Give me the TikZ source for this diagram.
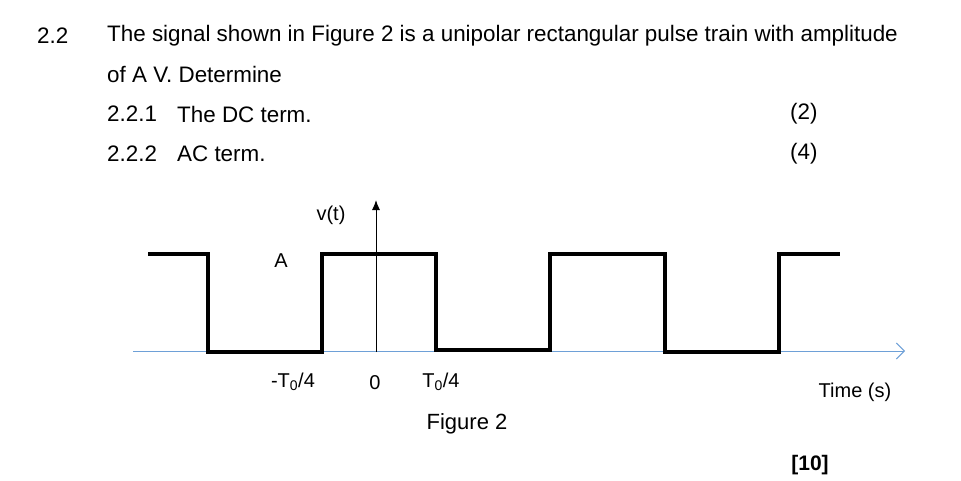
\documentclass[tikz,border=0pt]{standalone}
\usepackage{fontspec}
\setmainfont{Liberation Sans}
\usetikzlibrary{arrows.meta}
\begin{document}
\begin{tikzpicture}[x=1pt,y=-1pt,
  txt/.style={anchor=west,inner sep=0pt,font=\fontsize{22.4}{26}\selectfont},
  lbl/.style={inner sep=0pt,font=\fontsize{20}{24}\selectfont},
  sig/.style={line width=3.3pt,line join=miter}]
\useasboundingbox (0,0) rectangle (961,480);
\node[txt] (n22) at (37,36) {2.2};
\node[txt] (p1) at (107,36) {The signal shown in Figure 2 is a unipolar rectangular pulse train with amplitude};
\node[txt] (p2) at (107,74) {of A V. Determine};
\node[txt] (q1) at (107,114) {2.2.1};
\node[txt] (q1t) at (177,114) {The DC term.};
\node[txt] (m1) at (790,114) {(2)};
\node[txt] (q2) at (107,154) {2.2.2};
\node[txt] (q2t) at (177,154) {AC term.};
\node[txt] (m2) at (790,154) {(4)};
\coordinate (ax0) at (133,351);
\coordinate (ax1) at (905,351);
\draw[color={rgb,255:red,110;green,160;blue,215},line width=1pt,-{Straight Barb[length=8pt,width=16pt]}] (ax0) -- (ax1);
\draw[sig] (148,254) -- (208,254) -- (208,352) -- (322,352) -- (322,254) -- (436,254) -- (436,350) -- (550,350) -- (550,254) -- (665,254) -- (665,352) -- (779,352) -- (779,254) -- (840,254);
\coordinate (v0) at (376,352);
\coordinate (v1) at (376,200);
\draw[line width=1pt,-{Latex[length=10pt,width=8pt]}] (v0) -- (v1);
\node[lbl] (vt) at (331,215) {v(t)};
\node[lbl] (A) at (281,261) {A};
\node[lbl] (tm) at (293,382) {-T$_{\mathrm 0}$/4};
\node[lbl] (t0) at (375,383) {0};
\node[lbl] (tp) at (441,382) {T$_{\mathrm 0}$/4};
\node[lbl] (ts) at (855,392) {Time (s)};
\node[lbl,font=\fontsize{22}{26}\selectfont] (fig) at (467,424) {Figure 2};
\node[lbl,font=\fontsize{21}{26}\selectfont\bfseries] (ten) at (810,465) {[10]};
\end{tikzpicture}
\end{document}
